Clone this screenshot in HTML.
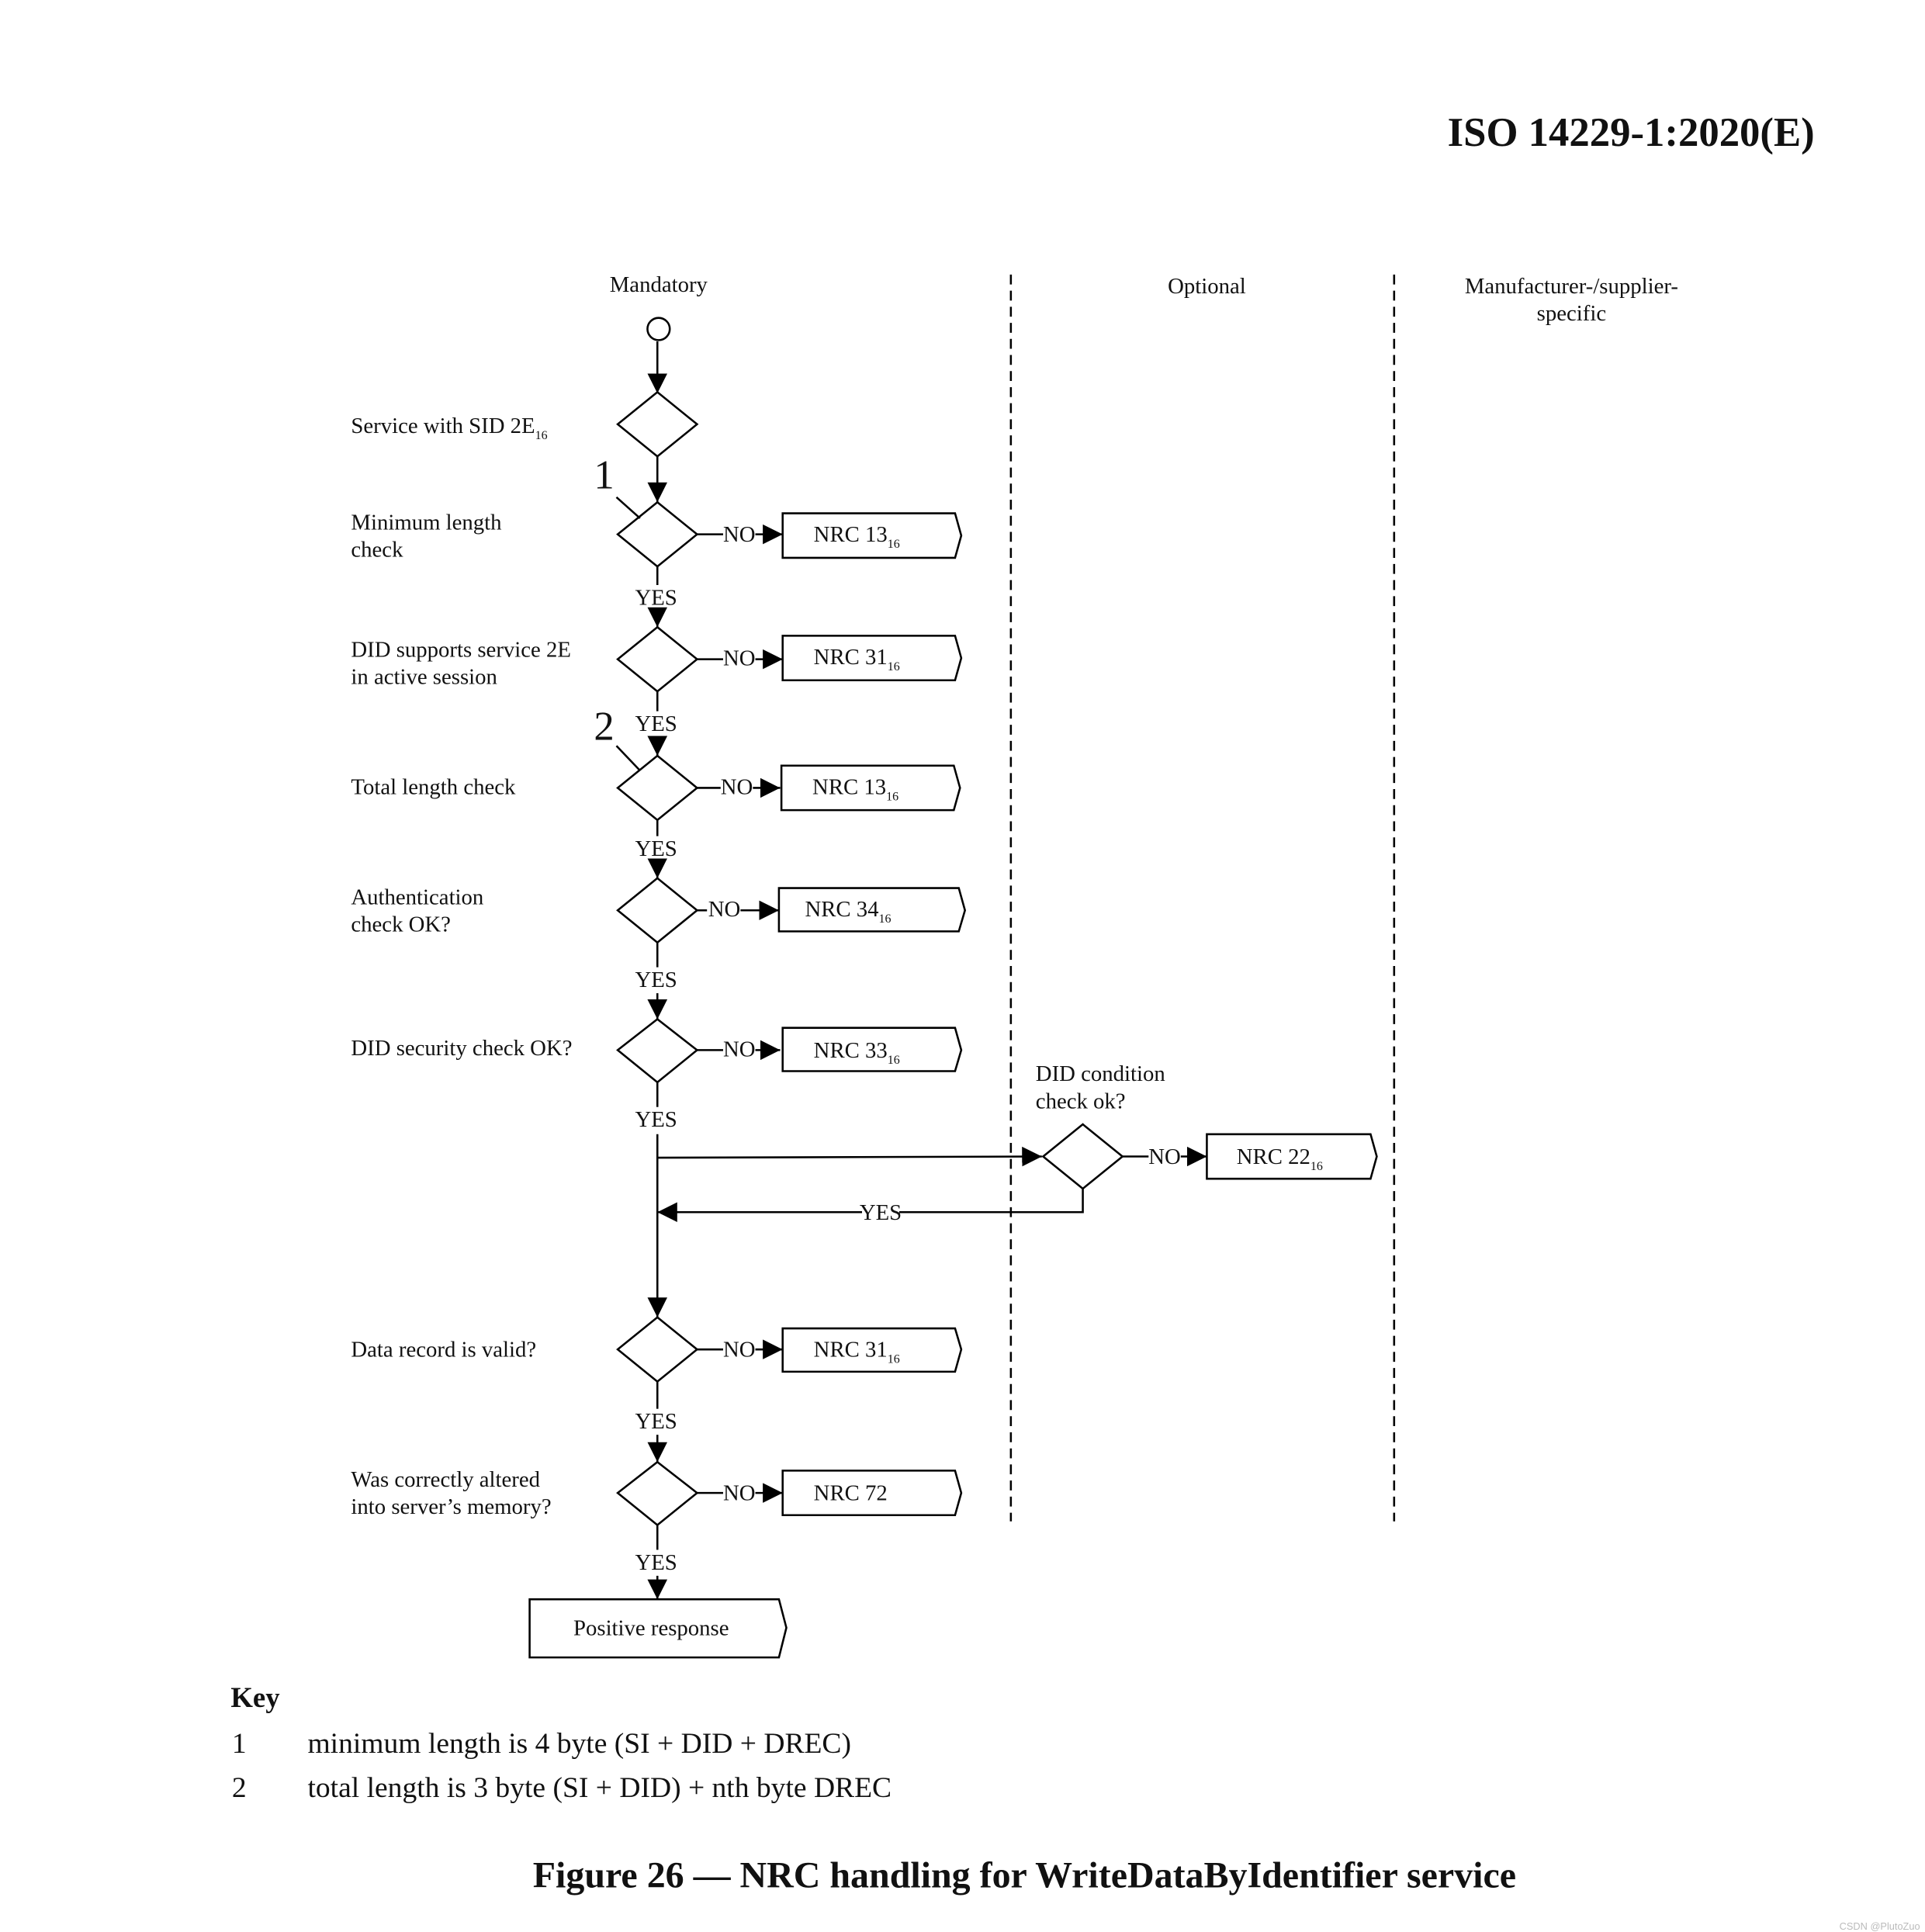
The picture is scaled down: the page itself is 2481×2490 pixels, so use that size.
<!DOCTYPE html>
<html><head><meta charset="utf-8"><style>
html,body{margin:0;padding:0;background:#fff;}
svg{display:block;}
text{font-family:"Liberation Serif",serif;fill:#111;}
</style></head><body>
<svg width="2481" height="2490" viewBox="0 0 1552 1562" preserveAspectRatio="none" xmlns="http://www.w3.org/2000/svg">
<defs>
<marker id="b" markerWidth="16" markerHeight="16" refX="16" refY="8" orient="auto" markerUnits="userSpaceOnUse" viewBox="0 0 16 16">
<path d="M0,0 L16,8 L0,16 z" fill="#000"/></marker>
</defs>
<text x="1463" y="118" font-size="33" font-weight="bold" text-anchor="end">ISO 14229-1:2020(E)</text>
<g font-size="18" text-anchor="middle">
<text x="531" y="236">Mandatory</text>
<text x="973" y="237">Optional</text>
<text x="1267" y="237">Manufacturer-/supplier-</text>
<text x="1267" y="259">specific</text>
</g>
<g stroke="#000" stroke-width="1.6" stroke-dasharray="8,5">
<line x1="815" y1="222" x2="815" y2="1230"/>
<line x1="1124" y1="222" x2="1124" y2="1230"/>
</g>
<g stroke="#000" stroke-width="1.6" fill="none">
<circle cx="531" cy="266" r="9" fill="#fff"/>
<line x1="530" y1="276" x2="530" y2="318" marker-end="url(#b)"/>
<line x1="530" y1="369" x2="530" y2="406" marker-end="url(#b)"/>
<line x1="530" y1="458" x2="530" y2="473"/>
<line x1="530" y1="494" x2="530" y2="507" marker-end="url(#b)"/>
<line x1="530" y1="559" x2="530" y2="575"/>
<line x1="530" y1="596" x2="530" y2="611" marker-end="url(#b)"/>
<line x1="530" y1="663" x2="530" y2="676"/>
<line x1="530" y1="697" x2="530" y2="710" marker-end="url(#b)"/>
<line x1="530" y1="762" x2="530" y2="782"/>
<line x1="530" y1="803" x2="530" y2="824" marker-end="url(#b)"/>
<line x1="530" y1="875" x2="530" y2="895"/>
<line x1="530" y1="917" x2="530" y2="1065" marker-end="url(#b)"/>
<line x1="530" y1="936" x2="840" y2="935" marker-end="url(#b)"/>
<polyline points="873,961 873,980 725,980"/>
<line x1="695" y1="980" x2="530" y2="980" marker-end="url(#b)"/>
<line x1="530" y1="1117" x2="530" y2="1139"/>
<line x1="530" y1="1160" x2="530" y2="1182" marker-end="url(#b)"/>
<line x1="530" y1="1233" x2="530" y2="1253"/>
<line x1="530" y1="1274" x2="530" y2="1293" marker-end="url(#b)"/>
<polygon points="530,317 562,343 530,369 498,343"/>
<polygon points="530,406 562,432 530,458 498,432"/>
<polygon points="530,507 562,533 530,559 498,533"/>
<polygon points="530,611 562,637 530,663 498,637"/>
<polygon points="530,710 562,736 530,762 498,736"/>
<polygon points="530,824 562,849 530,875 498,849"/>
<polygon points="873,909 905,935 873,961 841,935"/>
<polygon points="530,1065 562,1091 530,1117 498,1091"/>
<polygon points="530,1182 562,1207 530,1233 498,1207"/>
<line x1="497" y1="402" x2="516" y2="419"/>
<line x1="497" y1="603" x2="516" y2="623"/>
<line x1="562" y1="432" x2="583" y2="432"/><line x1="609" y1="432" x2="631" y2="432" marker-end="url(#b)"/>
<line x1="562" y1="533" x2="583" y2="533"/><line x1="609" y1="533" x2="631" y2="533" marker-end="url(#b)"/>
<line x1="562" y1="637" x2="581" y2="637"/><line x1="607" y1="637" x2="629" y2="637" marker-end="url(#b)"/>
<line x1="562" y1="736" x2="570" y2="736"/><line x1="597" y1="736" x2="628" y2="736" marker-end="url(#b)"/>
<line x1="562" y1="849" x2="583" y2="849"/><line x1="609" y1="849" x2="629" y2="849" marker-end="url(#b)"/>
<line x1="905" y1="935" x2="926" y2="935"/><line x1="952" y1="935" x2="973" y2="935" marker-end="url(#b)"/>
<line x1="562" y1="1091" x2="583" y2="1091"/><line x1="609" y1="1091" x2="631" y2="1091" marker-end="url(#b)"/>
<line x1="562" y1="1207" x2="583" y2="1207"/><line x1="609" y1="1207" x2="631" y2="1207" marker-end="url(#b)"/>
<polygon points="631,415 770,415 775,433 770,451 631,451"/>
<polygon points="631,514 770,514 775,532 770,550 631,550"/>
<polygon points="630,619 769,619 774,637 769,655 630,655"/>
<polygon points="628,718 773,718 778,736 773,753 628,753"/>
<polygon points="631,831 770,831 775,849 770,866 631,866"/>
<polygon points="973,917 1105,917 1110,935 1105,953 973,953"/>
<polygon points="631,1074 770,1074 775,1091 770,1109 631,1109"/>
<polygon points="631,1189 770,1189 775,1207 770,1225 631,1225"/>
<polygon points="427,1293 628,1293 634,1316 628,1340 427,1340"/>
</g>
<g font-size="18">
<text x="283" y="350">Service with SID 2E<tspan font-size="10" dy="5">16</tspan></text>
<text x="283" y="428">Minimum length</text><text x="283" y="450">check</text>
<text x="283" y="531">DID supports service 2E</text><text x="283" y="553">in active session</text>
<text x="283" y="642">Total length check</text>
<text x="283" y="731">Authentication</text><text x="283" y="753">check OK?</text>
<text x="283" y="853">DID security check OK?</text>
<text x="283" y="1097">Data record is valid?</text>
<text x="283" y="1202">Was correctly altered</text><text x="283" y="1224">into server’s memory?</text>
<text x="835" y="874">DID  condition</text><text x="835" y="896">check ok?</text>
<text x="656" y="438">NRC 13<tspan font-size="10" dy="5">16</tspan></text>
<text x="656" y="537">NRC 31<tspan font-size="10" dy="5">16</tspan></text>
<text x="655" y="642">NRC 13<tspan font-size="10" dy="5">16</tspan></text>
<text x="649" y="741">NRC 34<tspan font-size="10" dy="5">16</tspan></text>
<text x="656" y="855">NRC 33<tspan font-size="10" dy="5">16</tspan></text>
<text x="997" y="941">NRC 22<tspan font-size="10" dy="5">16</tspan></text>
<text x="656" y="1097">NRC 31<tspan font-size="10" dy="5">16</tspan></text>
<text x="656" y="1213">NRC 72</text>
<text x="525" y="1322" text-anchor="middle">Positive response</text>
</g>
<g font-size="18" text-anchor="middle">
<text x="596" y="438">NO</text><text x="596" y="538">NO</text><text x="594" y="642">NO</text>
<text x="584" y="741">NO</text><text x="596" y="854">NO</text><text x="939" y="941">NO</text>
<text x="596" y="1097">NO</text><text x="596" y="1213">NO</text>
<text x="529" y="489">YES</text><text x="529" y="591">YES</text><text x="529" y="692">YES</text>
<text x="529" y="798">YES</text><text x="529" y="911">YES</text><text x="710" y="986">YES</text>
<text x="529" y="1155">YES</text><text x="529" y="1269">YES</text>
</g>
<text x="487" y="395" font-size="33" text-anchor="middle">1</text>
<text x="487" y="598" font-size="33" text-anchor="middle">2</text>
<text x="186" y="1380" font-size="23" font-weight="bold">Key</text>
<text x="187" y="1417" font-size="23.5">1</text><text x="248" y="1417" font-size="23.5">minimum length is 4 byte (SI + DID + DREC)</text>
<text x="187" y="1453" font-size="23.5">2</text><text x="248" y="1453" font-size="23.5">total length is 3 byte (SI + DID) + nth byte DREC</text>
<text x="826" y="1526" font-size="30" font-weight="bold" text-anchor="middle">Figure 26 — NRC handling for WriteDataByIdentifier service</text>
<text x="1548" y="1560" font-size="8" text-anchor="end" style="fill:#bbb;font-family:'Liberation Sans',sans-serif">CSDN @PlutoZuo</text>
</svg>
</body></html>
